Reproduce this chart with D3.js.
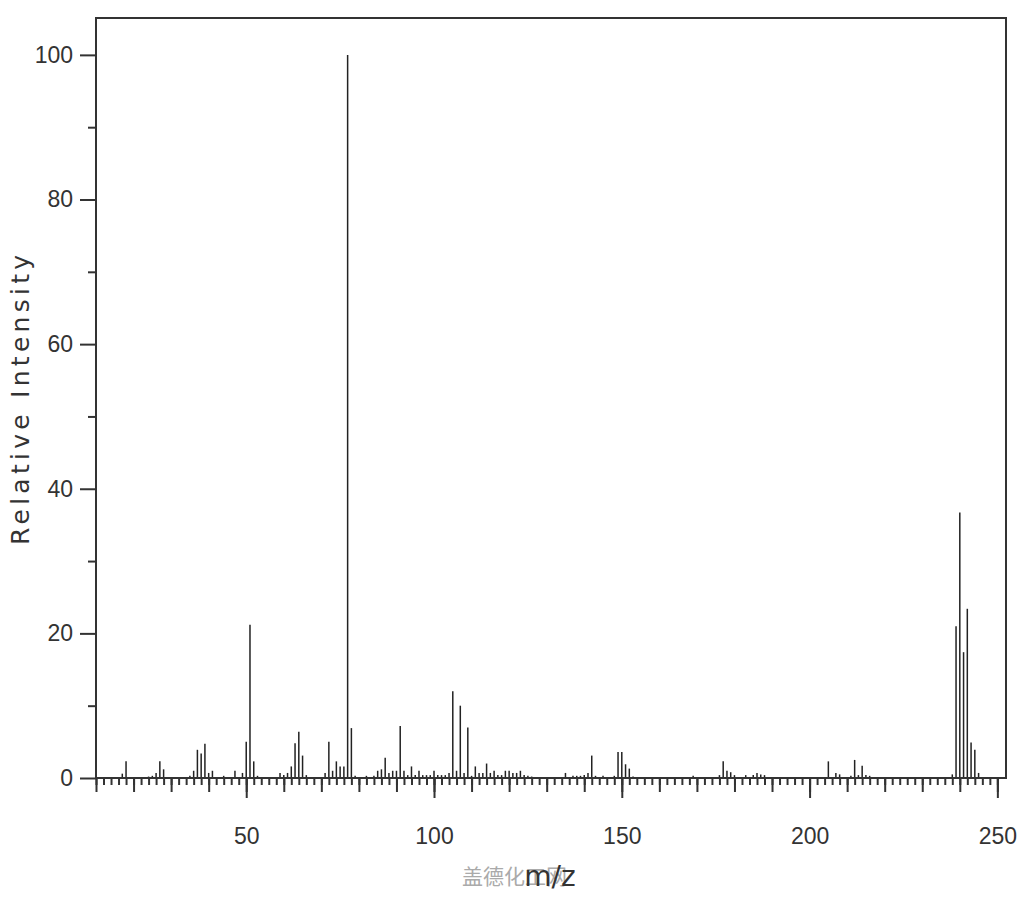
<!DOCTYPE html>
<html>
<head>
<meta charset="utf-8">
<script src="https://cdn.jsdelivr.net/npm/d3@7"></script>
<style>
  body { margin: 0; background: #fff; }
  .tick text { font-family: "Liberation Sans", Arial, sans-serif; font-size: 23px; fill: #333; }
  .tick line { stroke: #333; stroke-width: 2; }
  .axis-label { font-family: "DejaVu Sans", sans-serif; fill: #333; }
</style>
</head>
<body>
<div id="chart"></div>
<script>
// mass spectrum peaks
var mzValues = [17, 18, 24, 25, 26, 27, 28, 35, 36, 37, 38, 39, 40, 41, 44, 47, 49, 50, 51, 52, 53,
    59, 60, 61, 62, 63, 64, 65, 66, 71, 72, 73, 74, 75, 76, 77, 78, 79, 82, 84, 85, 86, 87, 88, 89,
    90, 91, 92, 93, 94, 95, 96, 97, 98, 99, 100, 101, 102, 103, 104, 105, 106, 107, 108, 109, 110,
    111, 112, 113, 114, 115, 116, 117, 118, 119, 120, 121, 122, 123, 124, 125, 126, 135, 137, 138,
    139, 140, 141, 142, 143, 145, 148, 149, 150, 151, 152, 153, 169, 176, 177, 178, 179, 180, 183,
    185, 186, 187, 188, 205, 207, 208, 211, 212, 213, 214, 215, 216, 238, 239, 240, 241, 242, 243,
    244, 245]
var intensities = [0.6, 2.3, 0.2, 0.3, 0.7, 2.3, 1.2, 0.3, 1.0, 3.9, 3.4, 4.75, 0.7, 1.0, 0.3, 1.0, 0.7, 5.0, 21.2, 2.3, 0.3,
    0.7, 0.4, 0.7, 1.6, 4.8, 6.4, 3.1, 0.4, 0.7, 5.0, 1.0, 2.3, 1.6, 1.6, 100, 6.9, 0.3, 0.3, 0.3, 1.0, 1.2, 2.8, 0.7, 1.0,
    1.0, 7.2, 1.0, 0.4, 1.6, 0.4, 1.0, 0.4, 0.4, 0.4, 1.0, 0.4, 0.4, 0.4, 0.7, 12.0, 1.0, 10.0, 0.7, 7.0, 0.3,
    1.6, 0.7, 0.7, 2.0, 0.7, 1.0, 0.4, 0.4, 1.0, 1.0, 0.7, 0.7, 1.0, 0.4, 0.3, 0.2, 0.7, 0.3, 0.3,
    0.3, 0.4, 0.7, 3.1, 0.3, 0.3, 0.3, 3.6, 3.6, 1.9, 1.3, 0.2, 0.3, 0.4, 2.3, 1.0, 0.8, 0.4, 0.4,
    0.4, 0.7, 0.5, 0.4, 2.3, 0.7, 0.5, 0.3, 2.5, 0.4, 1.7, 0.4, 0.3, 0.5, 21.0, 36.7, 17.4, 23.4, 4.9,
    3.9, 0.7]

var xMajorTicks = [50, 100, 150, 200, 250]
var yMajorTicks = [0, 20, 40, 60, 80, 100]

var peaks = mzValues.map(function(m, i){ return {mz: m, value: intensities[i]} })

var defaultWidth = 1024
var defaultHeight = 900
var margin = {top: 18, left: 96, right: 18, bottom: 122}
var width = defaultWidth - margin.left - margin.right
var height = defaultHeight - margin.top - margin.bottom

var svg = d3.select("#chart")
    .append("svg")
        .attr("width", defaultWidth)
        .attr("height", defaultHeight)
    .append("g")
        .attr("transform", "translate(" + margin.left + "," + margin.top + ")")

var x = d3.scaleLinear()
    .domain([10, 252.3])
    .range([0, width])

var y = d3.scaleLinear()
    .domain([0, 105.1])
    .range([height, 0])

// x axis: small ticks every 2, medium every 10, long every 50 with labels
function xAxisLayer(values, size, labels){
    var ax = d3.axisBottom(x)
        .tickValues(values)
        .tickSize(size)
        .tickPadding(30)
        .tickFormat(labels ? d3.format("d") : "")
    var g = svg.append("g")
        .attr("transform", "translate(0," + height + ")")
        .call(ax)
    g.select(".domain").remove()
}
xAxisLayer(d3.range(10, 251, 2), 7, false)
xAxisLayer(d3.range(10, 251, 10), 14, false)
xAxisLayer(xMajorTicks, 20, true)

// y axis: minor every 10, major every 20
function yAxisLayer(values, size, labels){
    var ax = d3.axisLeft(y)
        .tickValues(values)
        .tickSize(size)
        .tickPadding(7)
        .tickFormat(labels ? d3.format("d") : "")
    var g = svg.append("g").call(ax)
    g.select(".domain").remove()
}
yAxisLayer(d3.range(10, 100, 20), 8, false)
yAxisLayer(yMajorTicks, 16, true)

// peaks
svg.append("g").selectAll("line")
    .data(peaks)
    .enter()
    .append("line")
        .attr("x1", d => x(d.mz))
        .attr("x2", d => x(d.mz))
        .attr("y1", y(0))
        .attr("y2", d => y(d.value))
        .attr("stroke", "#222")
        .attr("stroke-width", 1.5)

// frame
svg.append("rect")
    .attr("x", 0)
    .attr("y", 0)
    .attr("width", width)
    .attr("height", height)
    .attr("fill", "none")
    .attr("stroke", "#333")
    .attr("stroke-width", 2)

// labels
svg.append("text")
    .attr("class", "axis-label")
    .attr("transform", "rotate(-90)")
    .attr("x", -(400 - margin.top))
    .attr("y", -margin.left + 29)
    .attr("text-anchor", "middle")
    .attr("font-size", 25)
    .attr("textLength", 290)
    .attr("lengthAdjust", "spacing")
    .text("Relative Intensity")

// watermark under the unit label
svg.append("text")
    .attr("x", 462 - margin.left)
    .attr("y", 884 - margin.top)
    .attr("font-family", "Noto Sans CJK SC")
    .attr("font-size", 21)
    .attr("fill", "#aaa")
    .text("盖德化工网")

svg.append("text")
    .attr("class", "axis-label")
    .attr("x", 550 - margin.left)
    .attr("y", 886 - margin.top)
    .attr("text-anchor", "middle")
    .attr("font-size", 28)
    .text("m/z")
</script>
</body>
</html>
